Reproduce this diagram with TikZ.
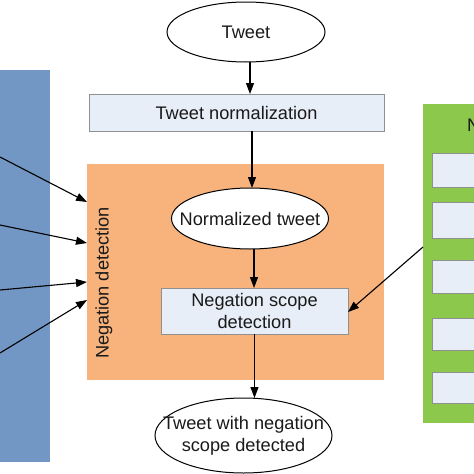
\documentclass[tikz,border=0pt]{standalone}
\usepackage{fontspec}
\setmainfont{Liberation Sans}
\usetikzlibrary{shapes.geometric,arrows.meta,calc}
\definecolor{bluepanel}{HTML}{7297C5}
\definecolor{orangepanel}{HTML}{F8B27C}
\definecolor{greenpanel}{HTML}{8CC84B}
\definecolor{boxfill}{HTML}{E8EEF7}
\definecolor{boxline}{HTML}{909090}
\definecolor{txt}{HTML}{1A1A1A}
\begin{document}
\begin{tikzpicture}[x=1pt,y=-1pt,
  every node/.style={font=\fontsize{18.2}{22}\selectfont, text=txt, inner sep=0pt, outer sep=0pt},
  oval/.style={ellipse, draw=black, line width=1pt, fill=white, align=center, inner xsep=-30pt, inner ysep=0pt},
  procbox/.style={rectangle, draw=boxline, line width=0.9pt, fill=boxfill, align=center},
  arr/.style={line width=1.1pt, -{Triangle[length=11pt,width=8pt]}},
  panel/.style={rectangle, draw=none}
]
\useasboundingbox (0,0) rectangle (474,474);
\clip (0,0) rectangle (474,474);
\fill[white] (0,0) rectangle (474,474);

% panels
\node[panel, fill=bluepanel, minimum width=60pt, minimum height=392pt] (blue) at (20,266) {};
\node[panel, fill=orangepanel, minimum width=297pt, minimum height=216pt] (orange) at (235.5,272) {};
\node[panel, fill=greenpanel, minimum width=100pt, minimum height=319pt] (green) at (473,263.5) {};
\node[anchor=west] (gtitle) at (467,125) {N};

% green inner boxes
\foreach \n/\ya/\yb in {g1/153/187, g2/202/238, g3/260/293, g4/318/350, g5/372/403}{
  \node[procbox, minimum width=80pt, minimum height={\yb-\ya}, anchor=north west] (\n) at (432,\ya) {};
}

% rotated label
\node[rotate=90] (negdet) at (104,283) {Negation detection};

% main flow
\node[oval, minimum width=158pt, minimum height=60pt] (tweet) at (246,32) {Tweet};
\node[procbox, minimum width=295pt, minimum height=37pt] (norm) at (236.5,112.5) {Tweet normalization};
\node[oval, minimum width=157pt, minimum height=61pt] (normd) at (250,218.5) {Normalized tweet};
\node[procbox, minimum width=187pt, minimum height=46pt] (scope) at (254.5,311) {Negation scope\\detection};
\node[oval, minimum width=177pt, minimum height=75pt] (result) at (243.5,435.5) {Tweet with negation\\scope detected};

\draw[arr] ([xshift=4pt]tweet.south) -- ([xshift=4pt]tweet.south |- norm.north);
\draw[arr] ([xshift=2pt]normd.north |- norm.south) -- ([xshift=2pt]normd.north);
\draw[arr] ([xshift=4pt]normd.south) -- ([xshift=4pt]normd.south |- scope.north);
\draw[arr] (scope.south) -- (scope.south |- result.north);

% arrows from the blue panel
\coordinate (b1) at (0,157);
\coordinate (b2) at (0,225);
\coordinate (b3) at (0,290);
\coordinate (b4) at (0,353);
\coordinate (o1) at (orange.west |- 0,202);
\coordinate (o2) at (orange.west |- 0,243);
\coordinate (o3) at (orange.west |- 0,282);
\coordinate (o4) at (orange.west |- 0,300);
\draw[arr] (b1) -- (o1);
\draw[arr] (b2) -- (o2);
\draw[arr] (b3) -- (o3);
\draw[arr] (b4) -- (o4);

% arrow from the green panel
\coordinate (gstart) at (green.west |- 0,247);
\draw[arr] (gstart) -- ([yshift=-1pt]scope.east);
\end{tikzpicture}
\end{document}
